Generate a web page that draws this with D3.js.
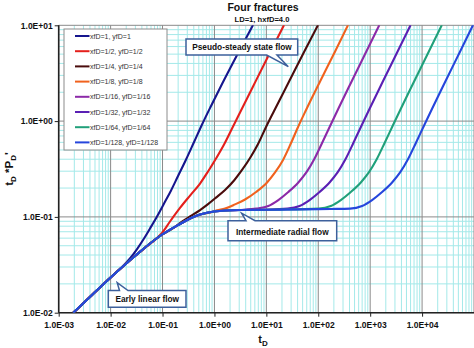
<!DOCTYPE html>
<html><head><meta charset="utf-8">
<script src="https://cdn.jsdelivr.net/npm/d3@7"></script>
<style>
body{margin:0;background:#fff}
svg{display:block}
text{font-family:"Liberation Sans",Arial,sans-serif}
</style>
</head><body>
<svg id="c" width="474" height="348"></svg>
<script>
// ---------- data ----------
const seriesLabels = ["xfD=1, yfD=1","xfD=1/2, yfD=1/2","xfD=1/4, yfD=1/4","xfD=1/8, yfD=1/8",
  "xfD=1/16, yfD=1/16","xfD=1/32, yfD=1/32","xfD=1/64, yfD=1/64","xfD=1/128, yfD=1/128"];
const xTickValues = [1e-3,1e-2,1e-1,1e0,1e1,1e2,1e3,1e4];
const xTickLabels = ["1.0E-03","1.0E-02","1.0E-01","1.0E+00","1.0E+01","1.0E+02","1.0E+03","1.0E+04"];
const yTickValues = [1e-2,1e-1,1e0,1e1];
const yTickLabels = ["1.0E-02","1.0E-01","1.0E+00","1.0E+01"];

// [tD, tD*PD']
const s1 = [[1.91e-3,0.0100],[4.38e-3,0.0153],[0.0100,0.0233],[0.0139,0.0276],[0.0181,0.0315],[0.0236,0.0368],
  [0.0323,0.0462],[0.0440,0.0595],[0.0574,0.0757],[0.0783,0.101],[0.107,0.138],[0.146,0.189],[0.199,0.267],
  [0.284,0.397],[0.405,0.605],[0.577,0.922],[0.860,1.44],[1.40,2.44],[2.73,4.90],[5.54,10.07]];
const s2 = [[1.91e-3,0.0100],[4.38e-3,0.0153],[0.0100,0.0233],[0.0295,0.0391],[0.0460,0.0474],[0.0574,0.0521],
  [0.0749,0.0588],[0.0978,0.0679],[0.1395,0.0895],[0.217,0.124],[0.339,0.167],[0.528,0.223],[0.753,0.298],
  [1.073,0.407],[1.531,0.570],[2.183,0.837],[3.11,1.23],[5.54,2.30],[10.78,4.72],[21.93,10.07]];
const s3 = [[1.91e-3,0.0100],[4.38e-3,0.0153],[0.0100,0.0233],[0.0295,0.0391],[0.0895,0.0632],[0.174,0.0784],
  [0.217,0.0864],[0.339,0.101],[0.528,0.118],[0.753,0.136],[1.073,0.159],[1.600,0.191],[2.386,0.240],
  [3.402,0.309],[4.852,0.412],[6.921,0.577],[9.867,0.868],[14.07,1.275],[27.38,2.59],[53.26,5.26],[99.1,10.07]];
const s4 = [[1.91e-3,0.0100],[4.38e-3,0.0153],[0.0100,0.0233],[0.0295,0.0391],[0.0895,0.0632],[0.217,0.0843],
  [0.339,0.0962],[0.528,0.106],[0.823,0.111],[1.122,0.117],[1.600,0.122],[2.494,0.135],[3.888,0.152],
  [6.332,0.182],[10.31,0.229],[14.71,0.291],[20.98,0.393],[29.92,0.591],[40.8,0.868],[58.2,1.306],
  [108.3,2.59],[210.7,5.33],[375.2,10.07]];
const s5 = [[1.91e-3,0.0100],[4.38e-3,0.0153],[0.0100,0.0233],[0.0295,0.0391],[0.0895,0.0632],[0.217,0.0843],
  [0.339,0.0962],[0.528,0.106],[0.982,0.114],[3.11,0.118],[6.4,0.122],[10.9,0.130],[17.0,0.150],[26.5,0.182],
  [41.3,0.229],[58.9,0.291],[84.0,0.402],[119.7,0.598],[170.8,0.900],[243.4,1.347],[433.6,2.559],[843,5.327],[1502,10.07]];
const s6 = [[1.91e-3,0.0100],[4.38e-3,0.0153],[0.0100,0.0233],[0.0295,0.0391],[0.0895,0.0632],[0.217,0.0843],
  [0.339,0.0962],[0.528,0.106],[0.982,0.114],[3.11,0.118],[10.0,0.119],[25.6,0.122],[43.6,0.130],[68.0,0.150],
  [106,0.182],[165,0.229],[235.6,0.291],[336,0.402],[479,0.598],[683,0.900],[974,1.347],[1734,2.559],[3374,5.327],[6006,10.07]];
const s7 = [[1.91e-3,0.0100],[4.38e-3,0.0153],[0.0100,0.0233],[0.0295,0.0391],[0.0895,0.0632],[0.217,0.0843],
  [0.339,0.0962],[0.528,0.106],[0.982,0.114],[3.11,0.118],[18.4,0.119],[102,0.122],[174.5,0.130],[272,0.150],
  [424,0.182],[660,0.229],[942,0.291],[1344,0.402],[1916,0.598],[2733,0.900],[3895,1.347],[6938,2.559],[13495,5.327],[24025,10.07]];
const s8 = [[1.91e-3,0.0100],[4.38e-3,0.0153],[0.0100,0.0233],[0.0295,0.0391],[0.0895,0.0632],[0.217,0.0843],
  [0.339,0.0962],[0.528,0.106],[0.982,0.114],[3.11,0.118],[18.4,0.119],[169,0.121],[410,0.122],[698,0.130],
  [1088,0.150],[1696,0.182],[2642,0.229],[3769,0.291],[5375,0.402],[7663,0.598],[10930,0.900],[15580,1.347],
  [27750,2.559],[53980,5.327],[96100,10.07]];
const seriesData = [s1,s2,s3,s4,s5,s6,s7,s8];

const annotations = ["Pseudo-steady state flow","Intermediate radial flow","Early linear flow"];

// ---------- styles ----------
const colors = ["#16168e","#e4201c","#4a0c0c","#f0621e","#8c2aa8","#5a20b4","#21a07a","#2646dc"];

// ---------- layout ----------
const svg = d3.select("#c");
const PL = 58.7, PR = 474, PT = 25.3, PB = 312.7;
const x = d3.scaleLog().domain([1e-3,1e5]).range([PL,PR]);
const y = d3.scaleLog().domain([1e-2,1e1]).range([PB,PT]);

svg.append("rect").attr("width",474).attr("height",348).attr("fill","#fff");

const isDecade = v => Math.abs(Math.log10(v) - Math.round(Math.log10(v))) < 1e-6;

// minor grid
const g = svg.append("g");
g.selectAll("line.mx").data(x.ticks().filter(v => !isDecade(v))).join("line")
  .attr("x1",d=>x(d)).attr("x2",d=>x(d)).attr("y1",PT).attr("y2",PB)
  .attr("stroke","#a4e9e9").attr("stroke-width",1);
g.selectAll("line.my").data(y.ticks().filter(v => !isDecade(v))).join("line")
  .attr("y1",d=>y(d)).attr("y2",d=>y(d)).attr("x1",PL).attr("x2",PR)
  .attr("stroke","#a4e9e9").attr("stroke-width",1);
// major grid
g.selectAll("line.Mx").data(x.ticks().filter(isDecade)).join("line")
  .attr("x1",d=>x(d)).attr("x2",d=>x(d)).attr("y1",PT).attr("y2",PB)
  .attr("stroke","#8a8a8a").attr("stroke-width",1);
g.selectAll("line.My").data(y.ticks().filter(isDecade)).join("line")
  .attr("y1",d=>y(d)).attr("y2",d=>y(d)).attr("x1",PL).attr("x2",PR)
  .attr("stroke","#8a8a8a").attr("stroke-width",1);

// axes
const xAxis = d3.axisBottom(x).tickValues(xTickValues).tickFormat((d,i)=>xTickLabels[i]).tickSize(4).tickPadding(5);
const yAxis = d3.axisLeft(y).tickValues(yTickValues).tickFormat((d,i)=>yTickLabels[i]).tickSize(4).tickPadding(2);
const gx = svg.append("g").attr("transform",`translate(0,${PB})`).call(xAxis);
const gy = svg.append("g").attr("transform",`translate(${PL},0)`).call(yAxis);
[gx,gy].forEach(a=>{
  a.select(".domain").attr("stroke","#222").attr("stroke-width",1.6);
  a.selectAll(".tick line").attr("stroke","#222");
  a.selectAll(".tick text").attr("fill","#111").attr("font-size","8.5px").attr("font-weight","bold")
    .attr("font-family","'Liberation Sans',Arial,sans-serif");
});
gx.select(".domain").attr("d",`M${PL},0H${PR}`);
gy.select(".domain").attr("d",`M0,${PB}V${PT}`);

// curves
svg.append("clipPath").attr("id","clip").append("rect")
  .attr("x",PL).attr("y",PT).attr("width",PR-PL).attr("height",PB-PT);
const line = d3.line().x(d=>x(d[0])).y(d=>y(d[1])).curve(d3.curveMonotoneX);
svg.append("g").attr("clip-path","url(#clip)")
  .selectAll("path").data(seriesData).join("path")
  .attr("d",line).attr("fill","none")
  .attr("stroke",(d,i)=>colors[i]).attr("stroke-width",2.1).attr("stroke-linejoin","round");

// legend
const lg = svg.append("g");
lg.append("rect").attr("x",64).attr("y",29).attr("width",103).attr("height",121)
  .attr("fill","#fff").attr("stroke","#8c8c8c").attr("stroke-width",1);
const li = lg.selectAll("g").data(seriesLabels).join("g")
  .attr("transform",(d,i)=>`translate(0,${36 + i*15.2})`);
li.append("line").attr("x1",75).attr("x2",89.5).attr("y1",0).attr("y2",0)
  .attr("stroke",(d,i)=>colors[i]).attr("stroke-width",2);
li.append("text").attr("x",90).attr("y",2.5).attr("font-size","7px").attr("fill","#333").text(d=>d);

// callouts
const callouts = [
  {text:annotations[0], path:"M186,39H297.7V55H277L288.3,66.7L266.7,55H186Z", tx:242, ty:50.2},
  {text:annotations[1], path:"M228,220.7H246L241.6,213.2L255,220.7H336.7V240.7H228Z", tx:282.3, ty:234.5},
  {text:annotations[2], path:"M108.3,290.5H119.5L117.2,282.6L128,290.5H186V307.3H108.3Z", tx:147.2, ty:302.3}
];
const cg = svg.append("g").selectAll("g").data(callouts).join("g");
cg.append("path").attr("d",d=>d.path).attr("fill","#fff").attr("stroke","#3d609c").attr("stroke-width",1.5)
  .attr("stroke-linejoin","miter");
cg.append("text").attr("x",d=>d.tx).attr("y",d=>d.ty).attr("text-anchor","middle")
  .attr("font-size","8.3px").attr("font-weight","bold").attr("fill","#111").text(d=>d.text);

// titles
svg.append("text").attr("x",263).attr("y",10.5).attr("text-anchor","middle")
  .attr("font-size","10.5px").attr("font-weight","bold").attr("fill","#111").text("Four fractures");
svg.append("text").attr("x",262).attr("y",22.3).attr("text-anchor","middle")
  .attr("font-size","7.6px").attr("font-weight","bold").attr("fill","#111").text("LD=1, hxfD=4.0");

// axis titles
const xt = svg.append("text").attr("x",263).attr("y",343).attr("text-anchor","middle")
  .attr("font-weight","bold").attr("fill","#111").attr("font-size","11px");
xt.append("tspan").text("t");
xt.append("tspan").attr("font-size","8px").attr("dy",2.5).text("D");

const yt = svg.append("text").attr("transform","translate(13,169) rotate(-90)").attr("text-anchor","middle")
  .attr("font-weight","bold").attr("fill","#111").attr("font-size","11.5px");
yt.append("tspan").text("t");
yt.append("tspan").attr("font-size","8px").attr("dy",2.5).text("D");
yt.append("tspan").attr("dy",-2.5).text(" *P");
yt.append("tspan").attr("font-size","8px").attr("dy",2.5).text("D");
yt.append("tspan").attr("dy",-2.5).text("'");
</script>
</body></html>
